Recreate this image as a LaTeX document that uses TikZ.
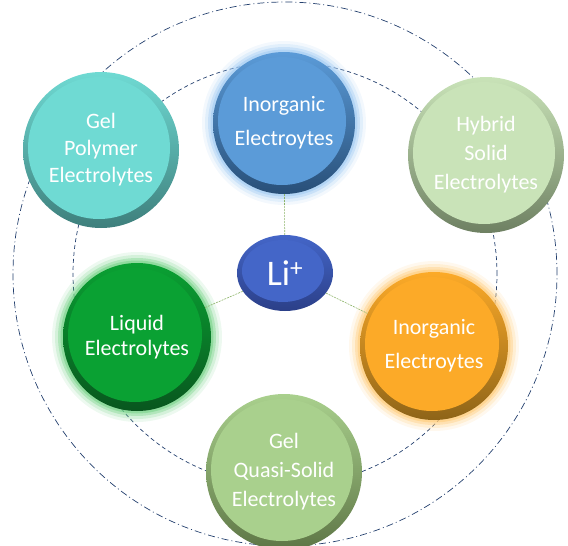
\documentclass[tikz,border=0pt]{standalone}
\usepackage{fontspec}
\setmainfont{Carlito}
\usetikzlibrary{calc}
\usetikzlibrary{shapes.geometric}
\definecolor{ringblue}{HTML}{24406E}
\definecolor{linkgreen}{HTML}{8DB46A}
\definecolor{tealfill}{HTML}{6FDAD3}
\definecolor{tealrim}{HTML}{3E7F7C}
\definecolor{bluefill}{HTML}{5B9BD8}
\definecolor{bluerim}{HTML}{284F78}
\definecolor{blueglow}{HTML}{9CC8F2}
\definecolor{hybfill}{HTML}{C9E3B8}
\definecolor{hybrim}{HTML}{6E8062}
\definecolor{lifill}{HTML}{4466C8}
\definecolor{lirim}{HTML}{2B3F88}
\definecolor{liqfill}{HTML}{0AA133}
\definecolor{liqrim}{HTML}{08561E}
\definecolor{liqglow}{HTML}{6FD082}
\definecolor{orfill}{HTML}{FCAA28}
\definecolor{orrim}{HTML}{8E6418}
\definecolor{orglow}{HTML}{FFC870}
\definecolor{gelfill}{HTML}{A9D08D}
\definecolor{gelrim}{HTML}{5E7646}
\tikzstyle{ball} = [ellipse, inner sep=0pt, text=white, align=center, font=\fontsize{22}{27}\selectfont]
\tikzstyle{ringdash} = [ringblue, line width=0.7pt, dash pattern=on 4pt off 3pt]
\tikzstyle{ringdot} = [ringblue, line width=0.7pt, dash pattern=on 7pt off 3pt on 1pt off 3pt]
\tikzstyle{link} = [linkgreen, line width=0.6pt, dash pattern=on 2pt off 1pt]
\tikzset{
  rim/.style 2 args={shading angle=45, top color=#2, bottom color=#1, path picture={
      \fill[#2] let \p1=(path picture bounding box.north east), \p2=(path picture bounding box.center)
        in ([shift={(-2pt,2pt)}]\p2) ellipse ({\x1-\x2-7pt} and {\y1-\y2-7pt});}},
  glow/.style={preaction={draw=#1, line width=22pt, opacity=.12}, preaction={draw=#1, line width=16pt, opacity=.2},
    preaction={draw=#1, line width=10pt, opacity=.35}, preaction={draw=#1, line width=5pt, opacity=.5}}
}

\begin{document}
\begin{tikzpicture}[x=1pt, y=-1pt]
  \useasboundingbox (0,0) rectangle (568,546);
  \coordinate (hub) at (285,274);
  \draw[ringdot] (hub) circle (272pt);
  \draw[ringdash] (hub) circle (212pt);

  \node[ball, rim={tealrim}{tealfill}, minimum size=156pt](gelpoly) at (101,150) {Gel\\Polymer\\Electrolytes};
  \node[ball, glow=blueglow, rim={bluerim}{bluefill}, minimum size=142pt, font=\fontsize{22}{34}\selectfont](inorgtop) at (284,123) {Inorganic\\Electroytes};
  \node[ball, rim={hybrim}{hybfill}, minimum size=156pt, font=\fontsize{22}{29}\selectfont](hybrid) at (486,155) {Hybrid\\Solid\\Electrolytes};
  \node[ball, rim={lirim}{lifill}, minimum width=96pt, minimum height=76pt, font=\fontsize{36}{40}\selectfont](li) at (285,273) {Li\textsuperscript{+}};
  \node[ball, glow=liqglow, rim={liqrim}{liqfill}, minimum size=148pt, font=\fontsize{22}{25}\selectfont](liquid) at (137,337) {Liquid\\Electrolytes};
  \node[ball, glow=orglow, rim={orrim}{orfill}, minimum size=148pt, font=\fontsize{22}{34}\selectfont](inorgbot) at (434,346) {Inorganic\\Electroytes};
  \node[ball, rim={gelrim}{gelfill}, minimum size=156pt, font=\fontsize{22}{29}\selectfont](gelquasi) at (284,472) {Gel\\Quasi-Solid\\Electrolytes};

  \draw[link] (li) -- (inorgtop);
  \draw[link] (li) -- (liquid);
  \draw[link] (li) -- (inorgbot);
\end{tikzpicture}
\end{document}
